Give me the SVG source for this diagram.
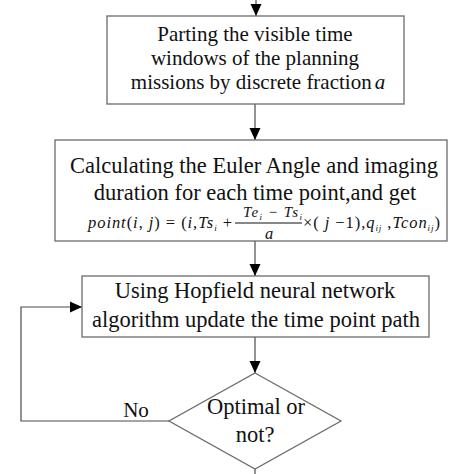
<svg xmlns="http://www.w3.org/2000/svg" width="474" height="474" viewBox="0 0 474 474">
<style>
.box{fill:#fff;stroke:#6b6b6b;stroke-width:1.3}
.ln{fill:none;stroke:#4a4a4a;stroke-width:1.2}
.t{font-family:"Liberation Serif","Times New Roman",serif;font-size:22.5px;fill:#111;text-anchor:middle}
.t1{font-size:21px}
.m{font-family:"Liberation Serif","Times New Roman",serif;font-size:16.5px;fill:#111;font-style:italic}
.n{font-size:15px}
.u{font-style:normal}
.s{font-size:9px}
</style>
<defs>
<marker id="ah" markerUnits="userSpaceOnUse" markerWidth="12" markerHeight="12" viewBox="0 0 12 12" refX="12" refY="6" orient="auto">
<path d="M0,0.5 L12,6 L0,11.5 Z" fill="#000"/>
</marker>
</defs>
<g id="connectors">
<line class="ln" x1="256" y1="0" x2="256" y2="16" marker-end="url(#ah)"/>
<line class="ln" x1="255" y1="104" x2="255" y2="140" marker-end="url(#ah)"/>
<line class="ln" x1="255" y1="241" x2="255" y2="276" marker-end="url(#ah)"/>
<line class="ln" x1="255" y1="337" x2="255" y2="373" marker-end="url(#ah)"/>
<polyline class="ln" points="169,421 21,421 21,307 82,307" marker-end="url(#ah)"/>
<line class="ln" x1="255" y1="469" x2="255" y2="474"/>
<text class="t t1" x="136" y="417">No</text>
</g>
<g id="node1">
<rect class="box" x="107" y="16" width="297" height="88"/>
<text class="t t1" x="255" y="41">Parting the visible time</text>
<text class="t t1" x="255" y="65">windows of the planning</text>
<text class="t t1" x="258" y="89">missions by discrete fraction<tspan font-style="italic" dx="3">a</tspan></text>
</g>
<g id="node2">
<rect class="box" x="55" y="140" width="392" height="101"/>
<text class="t" x="254" y="173">Calculating the Euler Angle and imaging</text>
<text class="t" x="255" y="200">duration for each time point,and get</text>
<text class="m" x="88" y="228" textLength="144" lengthAdjust="spacing">point<tspan class="u">(</tspan>i<tspan class="u">, </tspan>j<tspan class="u">) = (</tspan>i<tspan class="u">,</tspan>Ts<tspan class="s" dy="3">i</tspan><tspan class="u" dy="-3"> +</tspan></text>
<text class="m n" x="243" y="217" textLength="59" lengthAdjust="spacing">Te<tspan class="s" dy="3">i</tspan><tspan class="u" dy="-3"> − </tspan>Ts<tspan class="s" dy="3">i</tspan></text>
<line x1="235" y1="223" x2="302" y2="223" stroke="#111" stroke-width="1"/>
<text class="m" x="269" y="239" text-anchor="middle">a</text>
<text class="m" x="303" y="228" textLength="137" lengthAdjust="spacing"><tspan class="u">×(</tspan> j <tspan class="u">−1),</tspan>q<tspan class="s" dy="3">ij</tspan><tspan class="u" dy="-3"> ,</tspan>Tcon<tspan class="s" dy="3">ij</tspan><tspan class="u" dy="-3">)</tspan></text>
</g>
<g id="node3">
<rect class="box" x="82" y="276" width="347" height="61"/>
<text class="t" x="255" y="298">Using Hopfield neural network</text>
<text class="t" x="256" y="327">algorithm update the time point path</text>
</g>
<g id="node4">
<polygon class="box" points="255,373 341,421 255,469 169,421"/>
<text class="t" x="256" y="414">Optimal or</text>
<text class="t" x="255" y="442">not?</text>
</g>
</svg>
